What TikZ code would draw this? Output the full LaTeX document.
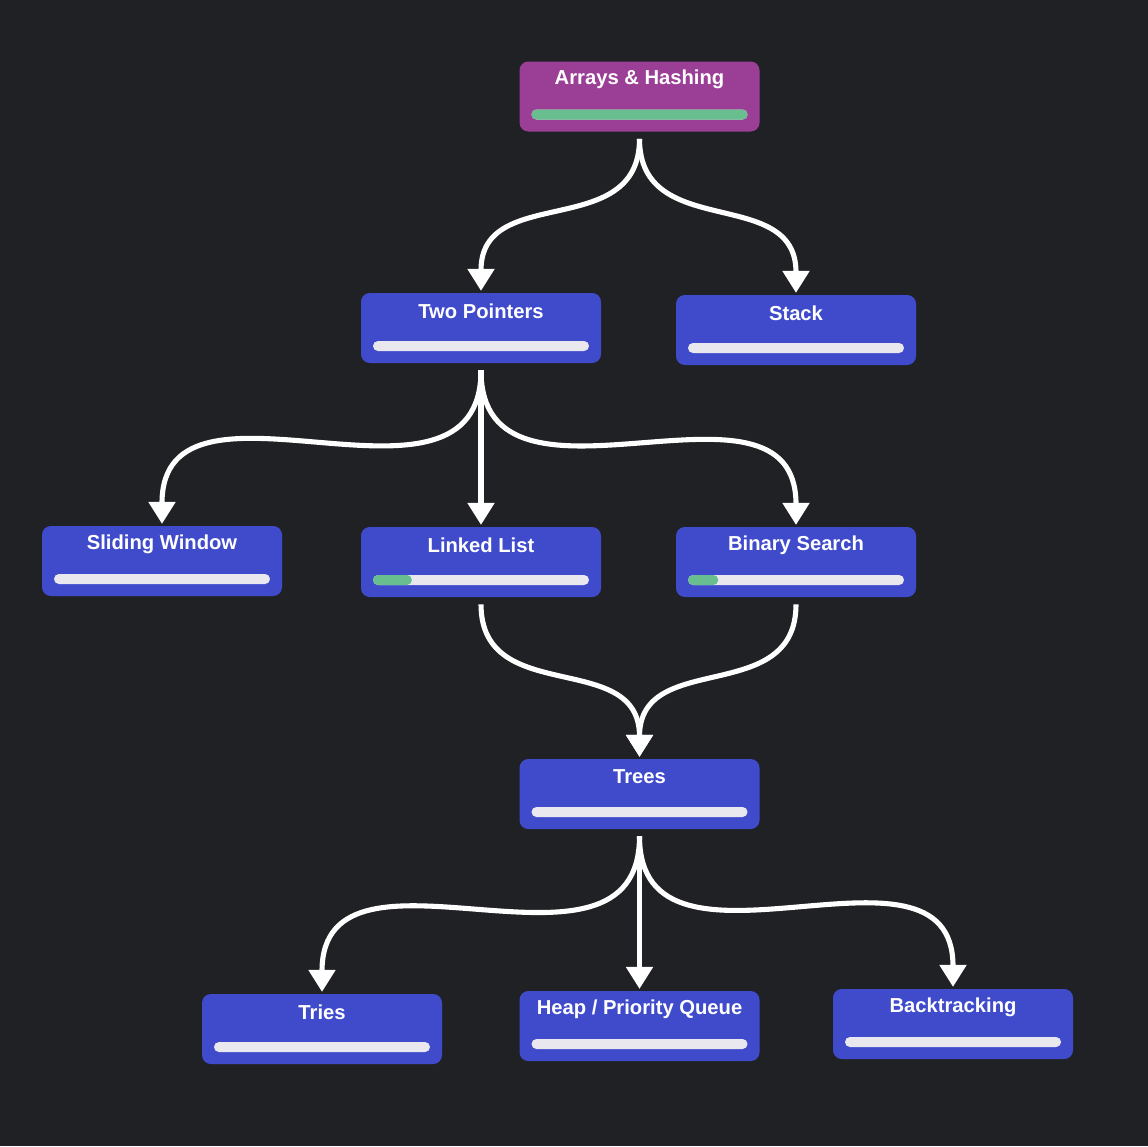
\documentclass[tikz,border=0pt]{standalone}
\usepackage{fontspec}
\setmainfont{Liberation Sans}
\usetikzlibrary{arrows.meta,calc}
\definecolor{bgc}{RGB}{32,33,36}
\definecolor{topicblue}{RGB}{64,75,204}
\definecolor{topicpink}{RGB}{155,63,150}
\definecolor{barc}{RGB}{232,232,238}
\definecolor{donec}{RGB}{104,190,142}
\tikzset{
  topic/.style={rounded corners=5pt, minimum width=240*0.02cm, minimum height=70*0.02cm, inner sep=0pt},
  link/.style={white, line width=2.9pt, -{Triangle[width=0.52cm,length=0.44cm]}, shorten <=0.14cm, shorten >=1pt},
  curvelink/.style={link, out=-90, in=90, looseness=1.25},
}
% \topicnode{name}{x}{y}{fill}{label}{done fraction}
\newcommand{\topicnode}[6]{%
  \node[topic, fill=#4] (#1) at (#2,#3) {};
  \node[font=\fontsize{11.5}{13}\selectfont\bfseries, text=white] (#1-t) at (#2,#3-17) {#5};
  \fill[barc, rounded corners=2.8pt] (#2-108,#3+13) rectangle (#2+108,#3+23);
  \ifx#60\else\fill[donec, rounded corners=2.8pt] (#2-108,#3+13) rectangle ($(#2-108,#3+23)+(216*#6,0)$);\fi
}
\begin{document}
\begin{tikzpicture}[x=0.02cm, y=-0.02cm]
\fill[bgc] (0,0) rectangle (1148,1146);
\useasboundingbox (0,0) rectangle (1148,1146);

\topicnode{hash}{639.5}{96.5}{topicpink}{Arrays \& Hashing}{1}
\topicnode{twoptr}{481}{328}{topicblue}{Two Pointers}{0}
\topicnode{stack}{796}{330}{topicblue}{Stack}{0}
\topicnode{window}{162}{561}{topicblue}{Sliding Window}{0}
\topicnode{list}{481}{562}{topicblue}{Linked List}{0.18}
\topicnode{bsearch}{796}{562}{topicblue}{Binary Search}{0.14}
\topicnode{trees}{639.5}{794}{topicblue}{Trees}{0}
\topicnode{tries}{322}{1029}{topicblue}{Tries}{0}
\topicnode{heap}{639.5}{1026}{topicblue}{Heap / Priority Queue}{0}
\topicnode{back}{953}{1024}{topicblue}{Backtracking}{0}

\draw[curvelink] (hash.south) to (twoptr.north);
\draw[curvelink] (hash.south) to (stack.north);
\draw[curvelink] (twoptr.south) to (window.north);
\draw[link] (twoptr.south) -- (list.north);
\draw[curvelink] (twoptr.south) to (bsearch.north);
\draw[curvelink] (list.south) to (trees.north);
\draw[curvelink] (bsearch.south) to (trees.north);
\draw[curvelink] (trees.south) to (tries.north);
\draw[link] (trees.south) -- (heap.north);
\draw[curvelink] (trees.south) to (back.north);
\end{tikzpicture}
\end{document}
